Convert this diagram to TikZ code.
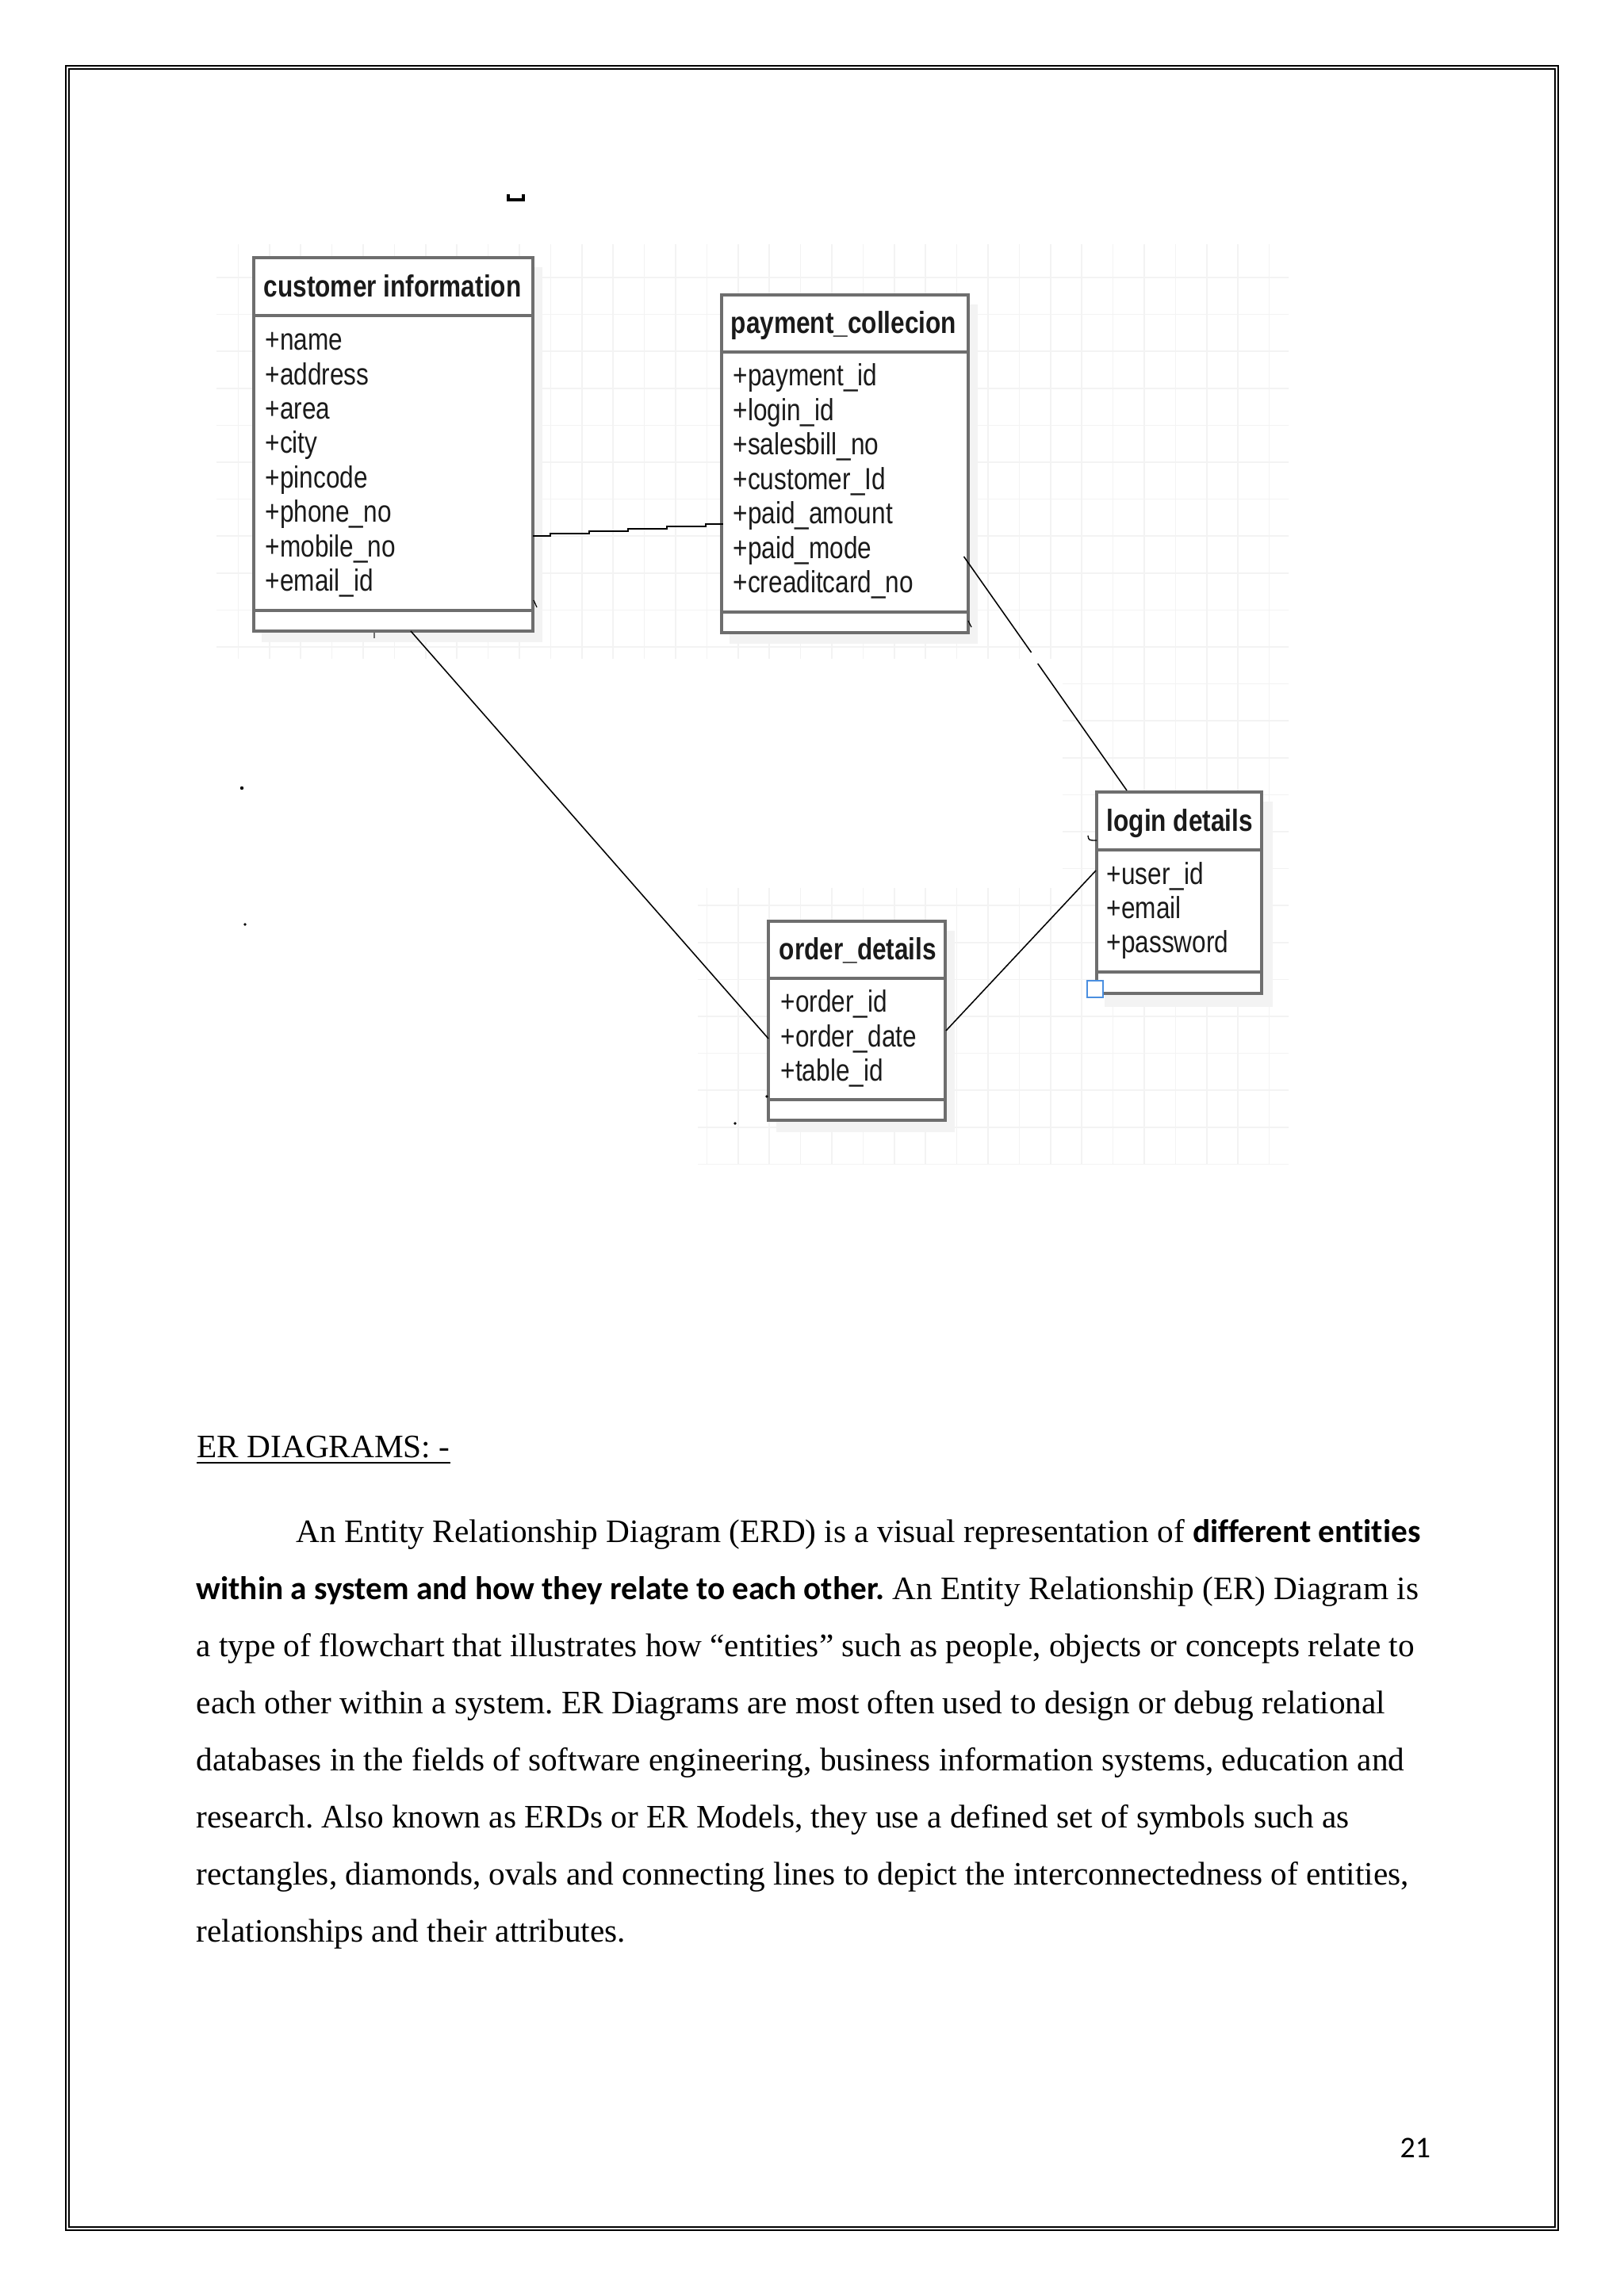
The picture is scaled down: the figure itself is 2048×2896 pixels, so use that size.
\documentclass[tikz,border=0pt]{standalone}
\usepackage{fontspec}
\setmainfont{Liberation Serif}
\newfontfamily\diag[FakeStretch=0.82]{Liberation Sans}
\newfontfamily\calib[Ligatures=NoCommon]{Carlito}
\usetikzlibrary{fit,calc}
\definecolor{boxgray}{HTML}{6E6E6E}
\definecolor{txt}{HTML}{1A1A1A}
\definecolor{gridc}{HTML}{F3F3F3}
\definecolor{shadowc}{HTML}{F3F3F3}
\definecolor{selblue}{HTML}{4A8FE0}
\tikzset{
  ent/.style={draw=boxgray, line width=0.9pt, fill=white, inner sep=0pt},
  sh/.style={fill=shadowc},
  attr/.style={anchor=base west, inner sep=0pt, text=txt, font=\diag\fontsize{11.2}{13}\selectfont},
  hdr/.style={anchor=base west, inner sep=0pt, text=txt, font=\diag\bfseries\fontsize{11.2}{13}\selectfont},
  divline/.style={draw=boxgray, line width=0.9pt},
  conn/.style={line width=0.45pt, black},
  thickconn/.style={line width=0.75pt, black},
  para/.style={anchor=base west, inner sep=0pt, font=\fontsize{12}{14}\selectfont},
  gridline/.style={draw=gridc, line width=0.45pt},
  speck/.style={fill=black}
}
\frenchspacing
\begin{document}
\begin{tikzpicture}[x=0.2907pt,y=-0.2907pt]
\useasboundingbox (0,0) rectangle (2048,2896);
\fill[white] (0,0) rectangle (2048,2896);

% page border (double)
\draw[line width=0.45pt] (83,83) rectangle (1965,2813);
\draw[line width=0.45pt] (87,87) rectangle (1961,2809);

% faint grid
\foreach \r in {{(273,308) rectangle (1625,830)},{(1340,830) rectangle (1625,1468)},{(880,1120) rectangle (1340,1468)}}{
  \begin{scope}
    \clip \r;
    \foreach \i in {0,...,33}{\draw[gridline] (300.4+39.4*\i,300) -- (300.4+39.4*\i,1480);}
    \foreach \j in {0,...,24}{\draw[gridline] (260,350+46.6*\j) -- (1640,350+46.6*\j);}
  \end{scope}
}

% shadows
\fill[sh] (330,337) rectangle (684,810);
\fill[sh] (920,384) rectangle (1233,812);
\fill[sh] (1393,1011) rectangle (1605,1270);
\fill[sh] (979,1174) rectangle (1204,1428);

% entity boxes
\node[ent, fit={(320,325)(672,796)}] (cust) {};
\node[ent, fit={(910,372)(1221,798)}] (pay) {};
\node[ent, fit={(1383,999)(1591,1253)}] (login) {};
\node[ent, fit={(969,1162)(1192,1413)}] (order) {};

% dividers
\draw[divline] (320,398) -- (672,398);
\draw[divline] (320,770) -- (672,770);
\draw[divline] (910,444) -- (1221,444);
\draw[divline] (910,772) -- (1221,772);
\draw[divline] (1383,1072) -- (1591,1072);
\draw[divline] (1383,1226) -- (1591,1226);
\draw[divline] (969,1234) -- (1192,1234);
\draw[divline] (969,1387) -- (1192,1387);

% texts: customer information
\node[hdr] (custh) at (332,374) {customer information};
\node[attr] (ca1) at (334,441.7) {+name};
\node[attr] (ca2) at (334,485.1) {+address};
\node[attr] (ca3) at (334,528.5) {+area};
\node[attr] (ca4) at (334,571.9) {+city};
\node[attr] (ca5) at (334,615.3) {+pincode};
\node[attr] (ca6) at (334,658.7) {+phone\_no};
\node[attr] (ca7) at (334,702.1) {+mobile\_no};
\node[attr] (ca8) at (334,745.5) {+email\_id};

% payment_collecion
\node[hdr] (payh) at (921,420) {payment\_collecion};
\node[attr] (pa1) at (924,486.7) {+payment\_id};
\node[attr] (pa2) at (924,530.2) {+login\_id};
\node[attr] (pa3) at (924,573.7) {+salesbill\_no};
\node[attr] (pa4) at (924,617.2) {+customer\_Id};
\node[attr] (pa5) at (924,660.7) {+paid\_amount};
\node[attr] (pa6) at (924,704.2) {+paid\_mode};
\node[attr] (pa7) at (924,747.7) {+creaditcard\_no};

% login details
\node[hdr] (loginh) at (1395,1048.5) {login details};
\node[attr] (la1) at (1395,1115) {+user\_id};
\node[attr] (la2) at (1395,1158) {+email};
\node[attr] (la3) at (1395,1201) {+password};

% order_details
\node[hdr] (orderh) at (982,1210) {order\_details};
\node[attr] (oa1) at (984,1276) {+order\_id};
\node[attr] (oa2) at (984,1320) {+order\_date};
\node[attr] (oa3) at (984,1363) {+table\_id};

% connector end points
\coordinate (cpA) at (672,676);
\coordinate (cpB) at (912,661);
\coordinate (plA) at (1215.5,702);
\coordinate (plB) at (1421,997);
\coordinate (coA) at (518,796);
\coordinate (coB) at (969,1310);
\coordinate (olA) at (1193,1300);
\coordinate (olB) at (1382,1098);

% customer -- payment (stair-stepped)
\draw[thickconn] (cpA) -- ++(22,0) -- ++(0,-3) -- ++(49,0) -- ++(0,-3) -- ++(49,0) -- ++(0,-3)
  -- ++(49,0) -- ++(0,-3) -- ++(49,0) -- ++(0,-3) -- (cpB);
% payment -- login (with small gap)
\draw[conn] (plA) -- (1300.6,823);
\draw[conn] (1308.7,837) -- (plB);
% customer -- order
\draw[conn] (coA) -- (coB);
% order -- login
\draw[conn] (olA) -- (olB);

% selection handle
\draw[selblue, line width=0.5pt, fill=white] (1371,1237) rectangle (1391,1258);

% stray marks
\draw[line width=1.1pt] (641,245) -- (641,252) -- (660,252) -- (660,245);
\fill[speck] (305,994) circle (2.2);
\fill[speck] (309,1166) circle (1.8);
\fill[speck] (967,1383) circle (1.8);
\fill[speck] (927,1417) circle (1.8);
\draw[boxgray, line width=0.6pt] (472,797) -- (472,805);
\draw[line width=0.35pt] (673,757) -- (677,766);
\draw[line width=0.35pt] (1221,783) -- (1225,791);
\draw[line width=0.4pt] (1372,1054) .. controls (1373,1060) .. (1383,1060);

% heading and paragraph
\node[para] (head) at (248,1838) {ER DIAGRAMS: -};
\draw[line width=0.5pt] (248,1845) -- (head.base east |- 0,1845);
\node[para] (l1) at (373,1945) {An Entity Relationship Diagram (ERD) is a visual representation of {\calib\bfseries different entities}};
\node[para] (l2) at (247,2017) {{\calib\bfseries within a system and how they relate to each other.} An Entity Relationship (ER) Diagram is};
\node[para] (l3) at (247,2089) {a type of flowchart that illustrates how “entities” such as people, objects or concepts relate to};
\node[para] (l4) at (247,2161) {each other within a system. ER Diagrams are most often used to design or debug relational};
\node[para] (l5) at (247,2233) {databases in the fields of software engineering, business information systems, education and};
\node[para] (l6) at (247,2305) {research. Also known as ERDs or ER Models, they use a defined set of symbols such as};
\node[para] (l7) at (247,2377) {rectangles, diamonds, ovals and connecting lines to depict the interconnectedness of entities,};
\node[para] (l8) at (247,2449) {relationships and their attributes.};

% page number
\node[anchor=base west, inner sep=0pt, font=\calib\fontsize{11}{13}\selectfont] (pnum) at (1765,2721) {21};
\end{tikzpicture}
\end{document}
